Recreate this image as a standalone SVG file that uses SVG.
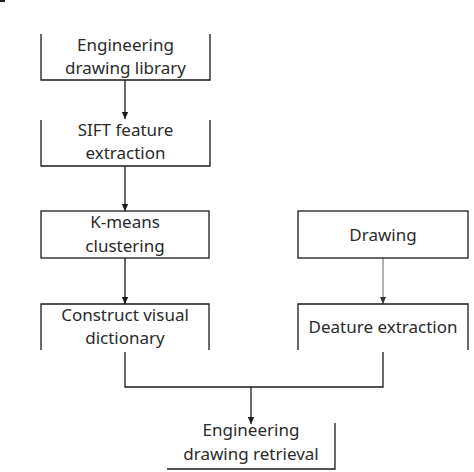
<svg xmlns="http://www.w3.org/2000/svg" width="474" height="472" viewBox="0 0 474 472">
<defs>
<style>
.b{fill:none;stroke:#1a1a1a;stroke-width:1.3}
.t{font-family:"Noto Sans","Open Sans",sans-serif;font-size:17px;fill:#2a2a2a;text-anchor:middle}
.c{fill:none;stroke:#1a1a1a;stroke-width:1.3}
.g{fill:none;stroke:#666;stroke-width:1}
</style>
<marker id="ah" markerWidth="8" markerHeight="8" refX="7" refY="4" orient="auto" markerUnits="userSpaceOnUse">
<path d="M0,0.8 L7,4 L0,7.2 Z" fill="#1a1a1a"/>
</marker>
<marker id="ahg" markerWidth="8" markerHeight="8" refX="7" refY="4" orient="auto" markerUnits="userSpaceOnUse">
<path d="M0,1 L7,4 L0,7 Z" fill="#333"/>
</marker>
</defs>
<rect width="474" height="472" fill="#fff"/>
<rect x="0" y="0" width="5" height="2" fill="#222"/>
<g id="connectors">
<line class="c" x1="125" y1="80" x2="125" y2="119" marker-end="url(#ah)"/>
<line class="c" x1="125" y1="166" x2="125" y2="211" marker-end="url(#ah)"/>
<line class="c" x1="125" y1="258" x2="125" y2="304" marker-end="url(#ah)"/>
<line class="g" x1="383" y1="258" x2="383" y2="304" marker-end="url(#ahg)"/>
<polyline class="c" points="125,352 125,387 383,387 383,352"/>
<line class="c" x1="251" y1="387" x2="251" y2="424" marker-end="url(#ah)"/>
</g>
<g id="n1">
<polyline class="b" points="41,34 41,80 210,80 210,34"/>
<text class="t" x="125.5" y="51">Engineering</text>
<text class="t" x="125.5" y="74">drawing library</text>
</g>
<g id="n2">
<polyline class="b" points="41,120 41,166 210,166 210,120"/>
<text class="t" x="125.5" y="136">SIFT feature</text>
<text class="t" x="125.5" y="159">extraction</text>
</g>
<g id="n3">
<rect class="b" x="41" y="211" width="168" height="47"/>
<text class="t" x="125" y="228">K-means</text>
<text class="t" x="125" y="252">clustering</text>
</g>
<g id="n4">
<polyline class="b" points="41,350 41,304 209,304 209,350"/>
<text class="t" x="125" y="321">Construct visual</text>
<text class="t" x="125" y="344">dictionary</text>
</g>
<g id="n5">
<rect class="b" x="298" y="211" width="170" height="47"/>
<text class="t" x="383" y="241">Drawing</text>
</g>
<g id="n6">
<polyline class="b" points="298,350 298,304 468,304 468,350"/>
<text class="t" x="383" y="333">Deature extraction</text>
</g>
<g id="n7">
<polyline class="b" points="167,469 335,469 335,423"/>
<text class="t" x="251" y="436">Engineering</text>
<text class="t" x="251" y="460">drawing retrieval</text>
</g>
</svg>
